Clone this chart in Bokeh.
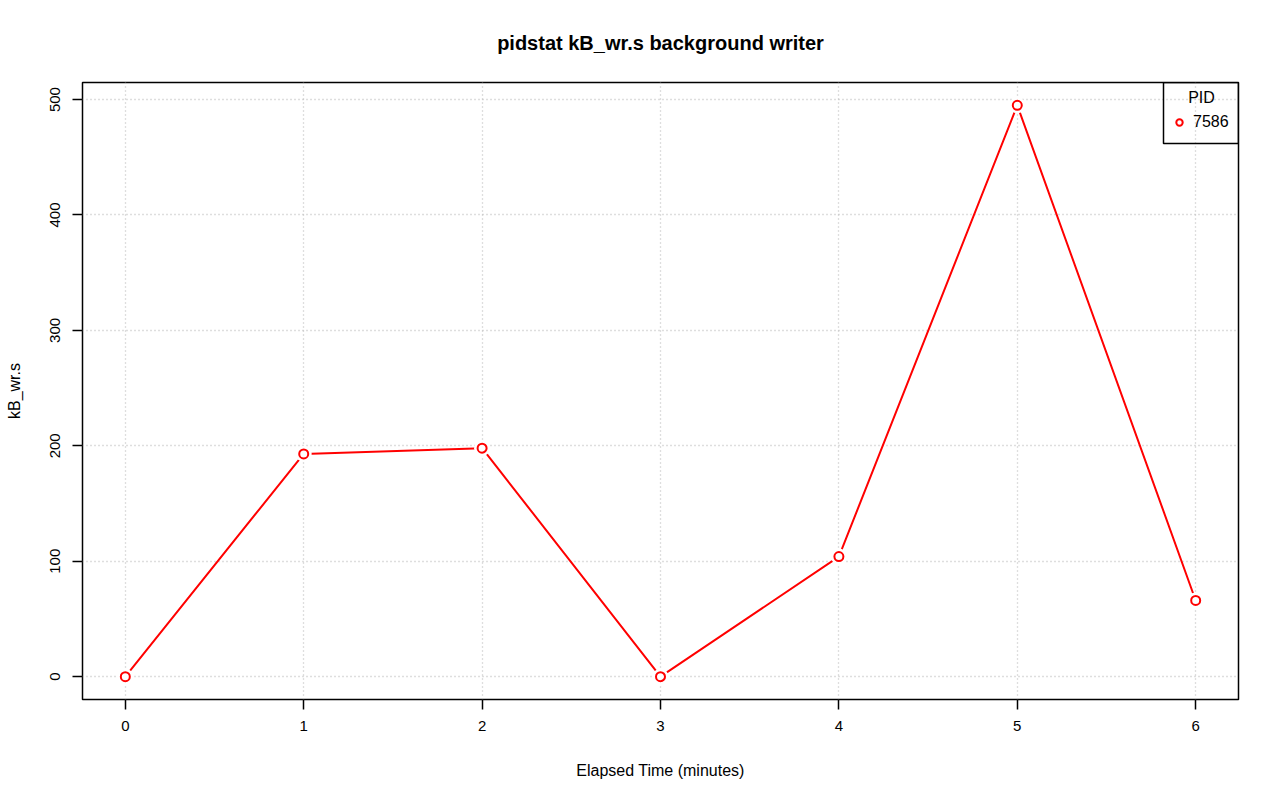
from bokeh.plotting import figure
from bokeh.models import FixedTicker, Range1d, Legend, LegendItem, BoxAnnotation, Label, LinearAxis
from bokeh.embed import file_html
from bokeh.resources import INLINE

minutes = [0, 1, 2, 3, 4, 5, 6]
kb_wr_s = [0, 193, 198, 0, 104, 495, 66]
x_ticks = [0, 1, 2, 3, 4, 5, 6]
y_ticks = [0, 100, 200, 300, 400, 500]
pid = "7586"
legend_title = "PID"
title_text = "pidstat kB_wr.s background writer"

FONT = "Liberation Sans"

p = figure(width=1264, height=785, output_backend="svg", toolbar_location=None,
           x_range=Range1d(-0.24, 6.24), y_range=Range1d(-19.8, 514.8),
           min_border_left=82, min_border_right=26, min_border_top=82, min_border_bottom=86)
p.background_fill_color = "white"
p.border_fill_color = "white"
p.outline_line_color = "black"
p.outline_line_width = 1.5

for ax in (p.xaxis[0], p.yaxis[0]):
    ax.axis_line_color = None
    ax.major_tick_in = 0
    ax.major_tick_out = 10
    ax.major_tick_line_width = 1.5
    ax.minor_tick_line_color = None
    ax.major_label_text_font = FONT
    ax.major_label_text_font_size = "15px"
    ax.major_label_text_color = "black"
    ax.axis_label_text_font = FONT
    ax.axis_label_text_font_size = "16px"
    ax.axis_label_text_font_style = "normal"
    ax.axis_label_text_color = "black"

p.xaxis.ticker = FixedTicker(ticks=x_ticks)
p.yaxis.ticker = FixedTicker(ticks=y_ticks)
p.xaxis.axis_label = "Elapsed Time (minutes)"
p.yaxis.axis_label = "kB_wr.s"
p.xaxis.major_label_standoff = 11
p.yaxis.major_label_standoff = 12
p.xaxis.axis_label_standoff = 28
p.yaxis.axis_label_standoff = 25
p.yaxis.major_label_orientation = "vertical"

# title as the label of a bare axis above the frame
title_axis = LinearAxis(ticker=FixedTicker(ticks=[]), axis_line_color=None,
                        major_tick_line_color=None, minor_tick_line_color=None,
                        axis_label=title_text, axis_label_standoff=29,
                        axis_label_text_font=FONT, axis_label_text_font_size="20px",
                        axis_label_text_font_style="bold", axis_label_text_color="black")
p.add_layout(title_axis, "above")

for g in (p.xgrid[0], p.ygrid[0]):
    g.grid_line_color = "#bdbdbd"
    g.grid_line_dash = "1 3"
    g.grid_line_width = 1.3

p.line(minutes, kb_wr_s, line_color="red", line_width=2)
p.scatter(minutes, kb_wr_s, size=16, fill_color="white", line_color="white", line_width=0)
pts = p.scatter(minutes, kb_wr_s, size=9, marker="circle", fill_color="white",
                line_color="red", line_width=2)

# legend: frame is 1156 x 617 px
legend = Legend(items=[LegendItem(label=pid, renderers=[pts])], location=(1089, 568),
                margin=0, padding=0, spacing=0,
                border_line_color=None, background_fill_alpha=0,
                label_text_font=FONT, label_text_font_size="16px", label_text_color="black",
                glyph_width=16, glyph_height=16, label_standoff=6, label_height=16)
p.add_layout(legend)

p.add_layout(BoxAnnotation(left=1081, right=1156, top=617, bottom=556,
                           left_units="screen", right_units="screen",
                           top_units="screen", bottom_units="screen",
                           fill_alpha=0, line_color="black", line_alpha=1.0, line_width=1.5))
p.add_layout(Label(x=1119, y=602, x_units="screen", y_units="screen", text=legend_title,
                   text_align="center", text_baseline="middle", text_font=FONT,
                   text_font_size="16px", text_color="black"))

open("out.html", "w").write(file_html(p, INLINE))
